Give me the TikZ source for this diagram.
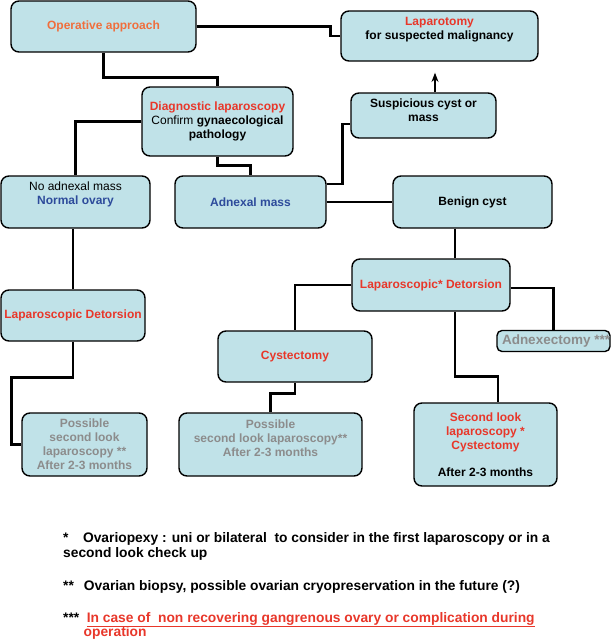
\documentclass[tikz,border=0pt]{standalone}
\usepackage{fontspec}
\setmainfont{Liberation Sans}
\usepackage{xcolor}
\usetikzlibrary{arrows.meta, calc}

\definecolor{boxblue}{RGB}{192,226,232}
\definecolor{oporange}{RGB}{240,110,60}
\definecolor{stepred}{RGB}{232,55,42}
\definecolor{massblue}{RGB}{45,75,155}
\definecolor{latergray}{RGB}{140,140,140}

\begin{document}
\begin{tikzpicture}[
  x=1pt, y=-1pt,
  >=Stealth,
  every node/.style={font=\fontsize{12}{14}\selectfont\bfseries},
  box/.style={draw, line width=1.4pt, fill=boxblue, rounded corners=8pt, align=center, inner sep=2pt},
  link/.style={line width=2.6pt},
  tip/.style={->, line width=1.4pt, shorten >=11pt},
  note/.style={anchor=base west, inner sep=0pt, font=\fontsize{13.8}{16}\selectfont\bfseries}
]
\useasboundingbox (0,0) rectangle (611,640);

% First row: operative approach, laparotomy
\node[box, minimum width=185pt, minimum height=51pt, text=oporange] (op) at (103.5,26.5)
  {Operative approach};
\node[box, minimum width=197pt, minimum height=50pt] (lapt) at (439.5,36)
  {\textcolor{stepred}{Laparotomy}\\for suspected malignancy\\[2pt]\mbox{}};

% Diagnostic step
\node[box, minimum width=151pt, minimum height=69pt] (diag) at (217.5,121.5)
  {\textcolor{stepred}{Diagnostic laparoscopy}\\{\mdseries Confirm} gynaecological\\pathology};
\node[box, minimum width=145pt, minimum height=45pt] (susp) at (423.5,115.5)
  {Suspicious cyst or\\mass\\[-3pt]\mbox{}};

% Findings
\node[box, minimum width=149pt, minimum height=52pt] (noadx) at (75.5,202)
  {{\mdseries No adnexal mass}\\\textcolor{massblue}{Normal ovary}\\[4pt]\mbox{}};
\node[box, minimum width=151pt, minimum height=52pt, text=massblue] (adx) at (250.5,202)
  {Adnexal mass};
\node[box, minimum width=159pt, minimum height=52pt] (benign) at (472.5,202)
  {Benign cyst};

% Detorsion
\node[box, minimum width=144pt, minimum height=51pt, text=stepred] (ldl) at (73,315.5)
  {Laparoscopic Detorsion};
\node[box, minimum width=158pt, minimum height=52pt, text=stepred] (ldr) at (431,285)
  {Laparoscopic* Detorsion};
\node[box, inner xsep=5pt, inner ysep=1pt, minimum height=21pt, rounded corners=5pt, text=latergray,
  font=\fontsize{13.5}{15}\selectfont\bfseries] (adnex) at (553.5,341)
  {\makebox[103pt][l]{Adnexectomy ***}};
\node[box, minimum width=154pt, minimum height=51pt, text=stepred] (cyst) at (295,356.5)
  {Cystectomy};

% Follow up
\node[box, minimum width=125pt, minimum height=63pt, text=latergray] (posl) at (84.5,444.5)
  {Possible\\second look\\laparoscopy **\\After 2-3 months};
\node[box, minimum width=183pt, minimum height=63pt, text=latergray] (posm) at (270.5,444.5)
  {Possible\\second look laparoscopy**\\After 2-3 months\\[-1pt]\mbox{}};
\node[box, minimum width=143pt, minimum height=83pt, text=stepred] (second) at (485.5,444.5)
  {Second look\\laparoscopy *\\Cystectomy\\[13pt]{\color{black}After 2-3 months}};

% Connectors
\coordinate (trunk) at (455,0);
\path (susp.north) ++(11.5,0) coordinate (susptop);
\draw[link] (op.east) -- ++(134,0) |- (lapt.west);
\draw[link] (op.south) -- ++(0,25) -| (diag.north);
\draw[link] (diag.west) -| (noadx.north);
\draw[link] (diag.south) -- ++(0,9) -| (adx.north);
\draw[link] ([yshift=18pt]adx.east) -- ++(16,0) |- ([yshift=-8.5pt]susp.west);
\draw[link] (adx.east) -- (benign.west);
\draw[tip] (susptop) -- (susptop |- lapt.south);
\draw[link] (trunk |- benign.south) -- (trunk |- ldr.north);
\draw[link] (ldr.west) -| (cyst.north);
\draw[link] ([yshift=-3pt]ldr.east) -| (adnex.north);
\draw[link] (trunk |- ldr.south) -- ++(0,65) -| ([xshift=12.5pt]second.north);
\draw[link] (cyst.south) -- ++(0,11) -| (posm.north);
\draw[link] (ldl.north) -- (ldl.north |- noadx.south);
\draw[link] (ldl.south) -- ++(0,36) -- ++(-61.5,0) |- (posl.west);

% Footnotes
\node[note] (fn1a) at (63,542)
  {*\hspace{14.5pt}Ovariopexy : uni or bilateral\ \ to consider in the first laparoscopy or in a};
\node[note] (fn1b) at (63,557) {second look check up};
\node[note] (fn2) at (63,590)
  {**\hspace{10pt}Ovarian biopsy, possible ovarian cryopreservation in the future (?)};
\node[note] (fn3a) at (63,622)
  {***\hspace{7.5pt}\textcolor{stepred}{\underline{In case of\ \ non recovering gangrenous ovary or complication during}}};
\node[note] (fn3b) at (83.5,636)
  {\textcolor{stepred}{\underline{operation}}};

\end{tikzpicture}
\end{document}
